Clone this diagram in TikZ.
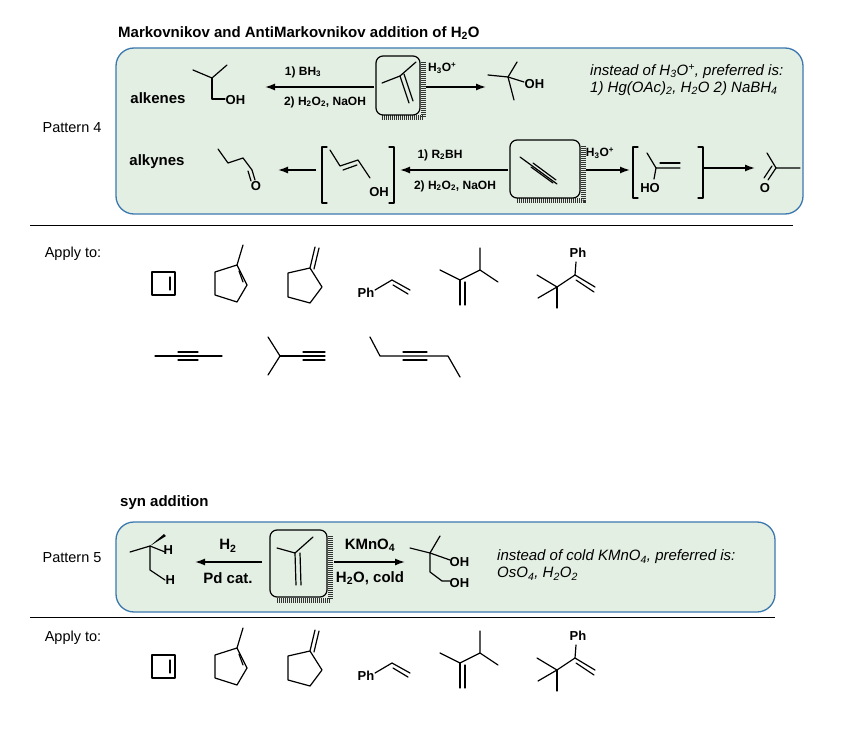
\documentclass[tikz,border=0pt]{standalone}
\usepackage{fontspec}
\setmainfont{Liberation Sans}
\usetikzlibrary{arrows.meta}
\definecolor{pborder}{HTML}{3C78B0}
\definecolor{pfill}{HTML}{E4EFE3}
\begin{document}
\begin{tikzpicture}[x=1pt,y=-1pt,
  bond/.style={line width=1.2pt,line cap=round,line join=round},
  arr/.style={line width=1.4pt,-{Latex[length=10pt,width=7pt]}},
  lab/.style={font=\bfseries\fontsize{15}{16}\selectfont,inner sep=0pt},
  rg/.style={font=\bfseries\fontsize{12}{14}\selectfont,inner sep=0pt},
  atm/.style={font=\bfseries\fontsize{13}{14}\selectfont,inner sep=0.5pt},
  note/.style={font=\itshape\fontsize{15}{17}\selectfont,inner sep=0pt,align=left},
  plain/.style={font=\fontsize{14.5}{16}\selectfont,inner sep=0pt},
  panel/.style={draw=pborder,line width=1.3pt,fill=pfill,rounded corners=18pt},
  rbox/.style={draw=black,line width=1.2pt,fill=pfill,rounded corners=7pt},
  shd/.style={gray!40!black,line width=5pt,dash pattern=on 1pt off 1pt}]
\useasboundingbox (0,0) rectangle (849,754);
\fill[white] (0,0) rectangle (849,754);
% ---- title & panel 1
\node[lab,anchor=west] (t1) at (118,33) {Markovnikov and AntiMarkovnikov addition of H\textsubscript{2}O};
\draw[panel] (116,48) rectangle (803,214);
\node[plain] (p4) at (72,128) {Pattern 4};
\node[lab] (alk) at (158,98) {alkenes};
\node[lab] (aky) at (157,162) {alkynes};
% isobutanol
\draw[bond] (193,70) -- (212,78) -- (227,65); \draw[bond] (212,78) -- (212,99) -- (225,99);
\node[atm,anchor=west] (oh1) at (225,100) {OH};
% reagent box 1
\draw[shd] (423,62) -- (423,118) -- (382,118);
\draw[rbox] (376,56) rectangle (420,115);
\draw[bond] (382,83) -- (400,76) -- (416,62);
\draw[bond] (400,76) -- (409,103); \draw[bond] (404,74) -- (413,101);
\draw[arr] (374,87) -- (265,87);
\node[rg] (r1) at (303,72) {1) BH\textsubscript{3}};
\node[rg] (r2) at (325,102) {2) H\textsubscript{2}O\textsubscript{2}, NaOH};
\draw[arr] (426,87) -- (486,87);
\node[rg,anchor=west] (r3) at (428,68) {H\textsubscript{3}O\textsuperscript{+}};
% t-butanol
\draw[bond] (488,75) -- (508,77) -- (517,62); \draw[bond] (508,77) -- (514,100); \draw[bond] (508,77) -- (524,82);
\node[atm,anchor=west] (oh2) at (524,84) {OH};
\node[note,anchor=west] (n1) at (590,80) {instead of H\textsubscript{3}O\textsuperscript{+}, preferred is:\\1) Hg(OAc)\textsubscript{2}, H\textsubscript{2}O 2) NaBH\textsubscript{4}};
% butanal
\draw[bond] (218,149) -- (228,163) -- (243,158) -- (252,170);
\draw[bond] (252,170) -- (255,180); \draw[bond] (248,171) -- (251,181);
\node[atm] (o1) at (256,186) {O};
\draw[arr] (316,170) -- (278,170);
\draw[bond] (327,147) -- (322,147) -- (322,203) -- (327,203);
\draw[bond] (389,147) -- (394,147) -- (394,203) -- (389,203);
\draw[bond] (330,150) -- (340,166) -- (358,160) -- (370,178);
\draw[bond] (343,170) -- (357,165);
\node[atm] (oh3) at (379,192) {OH};
\draw[arr] (508,170) -- (400,170);
\node[rg] (r4) at (440,155) {1) R\textsubscript{2}BH};
\node[rg] (r5) at (455,186) {2) H\textsubscript{2}O\textsubscript{2}, NaOH};
% reagent box 2
\draw[shd] (583,146) -- (583,201) -- (516,201);
\draw[rbox] (510,140) rectangle (580,198);
\draw[bond] (520,157) -- (557,184); \draw[bond] (533,163) -- (556,180); \draw[bond] (531,167) -- (553,183);
\draw[arr] (586,170) -- (630,170);
\node[rg] (r6) at (600,153) {H\textsubscript{3}O\textsuperscript{+}};
\draw[bond] (638,147) -- (633,147) -- (633,198) -- (638,198);
\draw[bond] (698,147) -- (703,147) -- (703,198) -- (698,198);
\draw[bond] (647,153) -- (656,168) -- (680,168); \draw[bond] (660,163) -- (680,163);
\draw[bond] (656,168) -- (654,179);
\node[atm] (ho1) at (650,188) {HO};
\draw[arr] (704,168) -- (755,168);
\draw[bond] (767,153) -- (776,168) -- (800,168);
\draw[bond] (776,168) -- (768,180); \draw[bond] (772,166) -- (764,178);
\node[atm] (o2) at (765,188) {O};
% separators
\draw[line width=1pt] (30,226) -- (793,226);
\node[plain] (ap1) at (73,254) {Apply to:};
% ---- apply row 1 (and reuse)
\newcommand{\applyrow}{%
\draw[bond] (152,272) rectangle (175,295); \draw[bond] (170,277) -- (170,290);
\draw[bond] (237,265) -- (247,285) -- (237,302) -- (215,295) -- (215,272) -- cycle;
\draw[bond] (237,265) -- (243,245);
\draw[bond] (239,271) -- (243,282);
\draw[bond] (310,268) -- (322,287) -- (310,303) -- (288,297) -- (288,273) -- cycle;
\draw[bond] (310,268) -- (315,247); \draw[bond] (314,269) -- (319,248);
\draw[bond] (375,290) -- (392,280) -- (410,290); \draw[bond] (393,285) -- (408,294);
\draw[bond] (440,270) -- (460,280) -- (480,270) -- (480,248); \draw[bond] (480,270) -- (498,282);
\draw[bond] (460,280) -- (460,305); \draw[bond] (465,282) -- (465,305);
\draw[bond] (537,275) -- (557,287) -- (575,275) -- (595,287); \draw[bond] (557,287) -- (538,298);
\draw[bond] (557,287) -- (557,308); \draw[bond] (576,280) -- (594,292); \draw[bond] (575,275) -- (576,262);}
\applyrow
\node[atm] (ph1) at (366,293) {Ph};
\node[atm] (ph2) at (578,253) {Ph};
% alkynes row
\draw[bond] (155,356) -- (222,356); \draw[bond] (178,352) -- (198,352); \draw[bond] (178,360) -- (198,360);
\draw[bond] (268,337) -- (280,356) -- (268,375); \draw[bond] (280,356) -- (325,356);
\draw[bond] (303,352) -- (325,352); \draw[bond] (303,360) -- (325,360);
\draw[bond] (370,337) -- (380,356) -- (448,356) -- (460,377);
\draw[bond] (403,352) -- (427,352); \draw[bond] (403,360) -- (427,360);
% ---- pattern 5
\node[lab,anchor=west] (syn) at (120,503) {syn addition};
\draw[panel] (116,522) rectangle (775,612);
\node[plain] (p5) at (72,558) {Pattern 5};
\draw[bond] (130,552) -- (150,546) -- (150,570) -- (165,580);
\fill (150,546) -- (166,536) -- (164,534) -- cycle;
\draw[bond] (150,546) -- (165,552);
\node[atm,anchor=west] (h1) at (163,550) {H};
\node[atm,anchor=west] (h2) at (165,580) {H};
\draw[arr] (262,562) -- (195,562);
\node[lab] (r7) at (228,546) {H\textsubscript{2}};
\node[lab] (r8) at (228,578) {Pd cat.};
\draw[shd] (330,536) -- (330,600) -- (276,600);
\draw[rbox] (270,530) rectangle (327,597);
\draw[bond] (277,548) -- (295,553) -- (313,537);
\draw[bond] (295,553) -- (296,585); \draw[bond] (300,553) -- (301,585);
\draw[arr] (334,562) -- (405,562);
\node[lab] (r9) at (370,545) {KMnO\textsubscript{4}};
\node[lab] (r10) at (370,578) {H\textsubscript{2}O, cold};
\draw[bond] (410,548) -- (430,553) -- (440,536); \draw[bond] (430,553) -- (450,560);
\draw[bond] (430,553) -- (430,572) -- (442,581) -- (450,581);
\node[atm,anchor=west] (oh4) at (449,562) {OH};
\node[atm,anchor=west] (oh5) at (449,583) {OH};
\node[note,anchor=west] (n2) at (497,565) {instead of cold KMnO\textsubscript{4}, preferred is:\\OsO\textsubscript{4}, H\textsubscript{2}O\textsubscript{2}};
\draw[line width=1pt] (30,617) -- (775,617);
\node[plain] (ap2) at (73,638) {Apply to:};
\begin{scope}[yshift=-383pt]
\applyrow
\end{scope}
\node[atm] (ph3) at (366,676) {Ph};
\node[atm] (ph4) at (578,636) {Ph};
\end{tikzpicture}
\end{document}
